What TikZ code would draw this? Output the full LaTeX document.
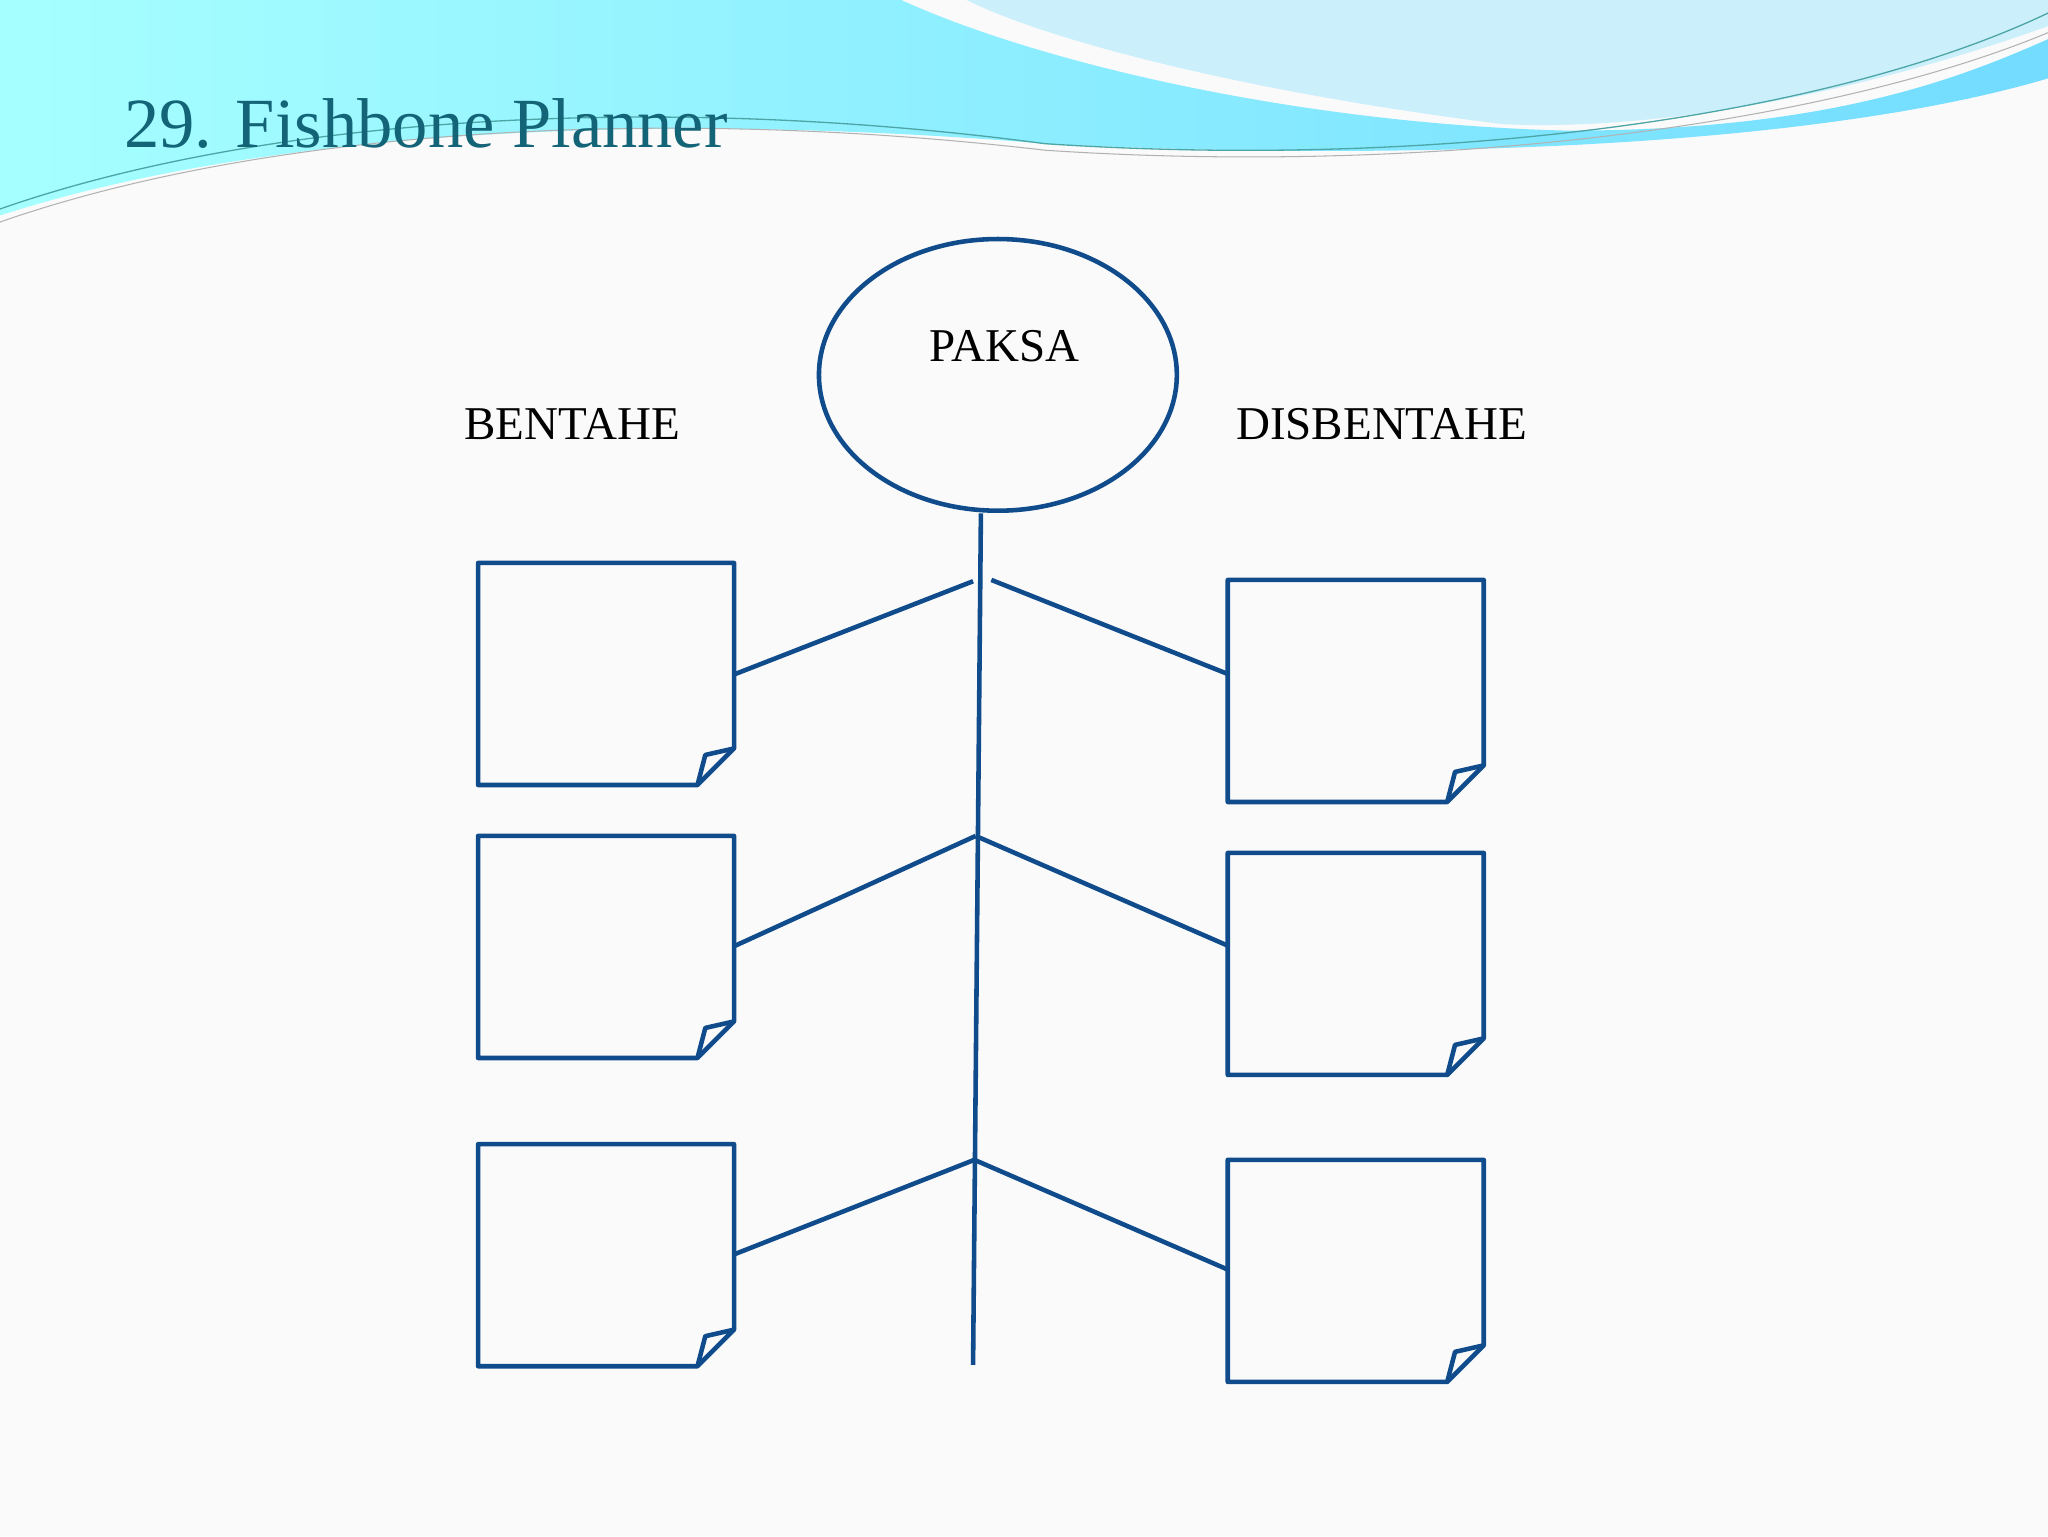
\documentclass[tikz,border=0pt]{standalone}
\usepackage{fontspec}
\setmainfont{Liberation Serif}
\usetikzlibrary{shapes.geometric}
\begin{document}
\begin{tikzpicture}[x=1pt,y=-1pt,
  lbl/.style={font=\fontsize{36}{42}\selectfont, text=black}]
\definecolor{bone}{RGB}{16,76,140}
\definecolor{ttl}{RGB}{20,100,120}
\tikzset{ln/.style={draw=bone, line width=3.5pt, line join=round}}
\fill[gray!4] (0,0) rectangle (1568,1176);
\useasboundingbox (0,0) rectangle (1568,1176);
% waves
\fill[cyan!20!white] (740,0) -- (1568,0) -- (1568,20) .. controls (1400,80) and (1250,100) .. (1150,95) .. controls (950,70) and (800,30) .. (740,0) -- cycle;
\shade[left color=cyan!35!white, right color=blue!25!cyan!55!white] (0,0) -- (690,0) .. controls (800,50) and (1000,95) .. (1200,100) .. controls (1400,100) and (1500,60) .. (1568,30) -- (1568,60) .. controls (1400,110) and (1100,125) .. (800,110) .. controls (500,85) and (200,100) .. (0,165) -- cycle;
\draw[teal!70, line width=1pt] (0,160) .. controls (200,90) and (500,70) .. (800,110) .. controls (1100,130) and (1400,90) .. (1568,10);
\draw[gray!60, line width=0.8pt] (0,170) .. controls (200,100) and (500,80) .. (800,115) .. controls (1100,135) and (1400,95) .. (1568,25);
% title
\node[anchor=base west, text=ttl, font=\fontsize{54}{62}\selectfont, inner sep=0pt] (title) at (95,113) {29. Fishbone Planner};
% head
\node[ln, ellipse, minimum width=274pt, minimum height=208pt, draw, inner sep=0pt] (head) at (764,287) {};
\node[lbl] (paksa) at (769,265) {PAKSA};
\node[lbl] (pro) at (438,325) {BENTAHE};
\node[lbl] (con) at (1058,325) {DISBENTAHE};
% spine
\coordinate (s0) at (751,393);
\coordinate (s1) at (745,1045);
\draw[ln] (s0) -- (s1);
% boxes
\foreach \n/\x/\y in {L1/366/431, L2/366/640, L3/366/876, R1/940/444, R2/940/653, R3/940/888}{
  \draw[ln] (\x,\y) -- (\x+196,\y) -- (\x+196,\y+142) -- (\x+168,\y+170) -- (\x,\y+170) -- cycle;
  \draw[ln] (\x+168,\y+170) -- (\x+174,\y+147) -- (\x+196,\y+142);
}
% branches
\coordinate (j1l) at (745,445); \coordinate (j1r) at (759,444);
\coordinate (j2) at (747,640); \coordinate (j3) at (746,888);
\draw[ln] (j1l) -- (563,516);
\draw[ln] (j1r) -- (940,516);
\draw[ln] (j2) -- (563,724);
\draw[ln] (j2) -- (940,724);
\draw[ln] (j3) -- (563,960);
\draw[ln] (j3) -- (940,972);
\end{tikzpicture}
\end{document}
